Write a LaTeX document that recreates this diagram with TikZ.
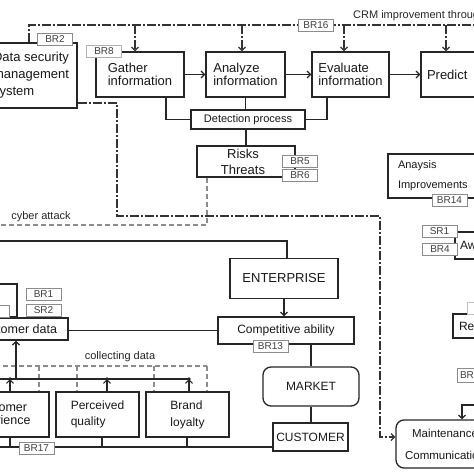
\documentclass[tikz,border=0pt]{standalone}
\usepackage{fontspec}
\setmainfont{Liberation Sans}
\usepackage{tikz}
\usetikzlibrary{arrows.meta,positioning,calc}
\tikzset{
    box/.style={draw=black!85, line width=1.3pt, fill=white, inner sep=0pt, text=black!90, align=center, font=\fontsize{13}{13}\selectfont},
    tag/.style={draw=black!45, line width=0.8pt, fill=white, inner sep=0pt, minimum width=35pt, minimum height=12pt, text=black!75, font=\fontsize{10}{10}\selectfont},
    conn/.style={draw=black!85, line width=1.2pt},
    dashdot/.style={draw=black!80, line width=1.2pt, dash pattern=on 9pt off 2pt on 2pt off 2pt},
    gdash/.style={draw=black!45, line width=1.2pt, dash pattern=on 5pt off 3pt},
    lbl/.style={inner sep=0pt, text=black!85, font=\fontsize{11}{11}\selectfont}
}

\begin{document}
\begin{tikzpicture}[x=1pt, y=-1pt, >={Straight Barb[length=3.5pt,width=7pt]}]
    \useasboundingbox (0,0) rectangle (474,474);
    \clip (0,0) rectangle (474,474);

    % upper part
    \node[box, minimum width=92pt, minimum height=65pt, align=left, font=\fontsize{13}{17}\selectfont] (dsms) at (31,75.5) {Data security\\management\\system};
    \node[box, minimum width=88pt, minimum height=45pt, align=left] (gather) at (140,74.5) {Gather\\information};
    \node[box, minimum width=79pt, minimum height=45pt, align=left] (analyze) at (245.5,74.5) {Analyze\\information};
    \node[box, minimum width=77pt, minimum height=45pt, align=left] (evaluate) at (350.5,74.5) {Evaluate\\information};
    \node[box, minimum width=92pt, minimum height=45pt, text width=80pt, align=left] (predict) at (467,74.5) {Predict};
    \node[box, minimum width=114pt, minimum height=19pt, font=\fontsize{11}{11}\selectfont] (detect) at (248,119.5) {Detection process};
    \node[box, minimum width=98pt, minimum height=31pt, text width=92pt, font=\fontsize{13}{16}\selectfont] (risks) at (246,161.5) {Risks\rule{6pt}{0pt}\\Threats\rule{6pt}{0pt}};

    % right column
    \node[box, minimum width=112pt, minimum height=44pt, text width=92pt, align=left, font=\fontsize{11}{20}\selectfont] (analysis) at (444,176) {Anaysis\\Improvements};
    \node[box, minimum width=84pt, minimum height=27pt, text width=74pt, align=left, font=\fontsize{12}{12}\selectfont] (aware) at (497,245.5) {Aw};
    \node[box, minimum width=76pt, minimum height=24pt, text width=64pt, align=left, font=\fontsize{12}{12}\selectfont] (rel) at (491,326) {Re};
    \node[box, rounded corners=8pt, minimum width=98pt, minimum height=48pt, font=\fontsize{11.5}{22}\selectfont] (maint) at (445,444) {Maintenance\\Communication};

    % lower part
    \node[box, minimum width=57pt, minimum height=33pt] (prev) at (-11.5,300.5) {};
    \node[box, minimum width=104pt, minimum height=22pt, font=\fontsize{12.5}{13}\selectfont] (custdata) at (16,329) {Customer data};
    \node[box, minimum width=108pt, minimum height=40pt] (enterprise) at (284,278.5) {ENTERPRISE};
    \node[box, minimum width=136pt, minimum height=27pt, font=\fontsize{12}{12}\selectfont] (compet) at (286,330.5) {Competitive ability};
    \node[box, rounded corners=8pt, minimum width=96pt, minimum height=39pt, font=\fontsize{12}{12}\selectfont] (market) at (311,386.5) {MARKET};
    \node[box, minimum width=75pt, minimum height=28pt, font=\fontsize{12}{12}\selectfont] (customer) at (310.5,437) {CUSTOMER};
    \node[box, minimum width=98pt, minimum height=45pt, font=\fontsize{12.5}{13}\selectfont] (custexp) at (0,414.5) {Customer\\experience};
    \node[box, minimum width=83pt, minimum height=45pt, align=left, font=\fontsize{12}{16}\selectfont] (perceived) at (97.5,414.5) {Perceived\\quality};
    \node[box, minimum width=83pt, minimum height=45pt, align=left, font=\fontsize{12}{17}\selectfont] (brand) at (187.5,414.5) {Brand\\loyalty};

    % free labels
    \node[lbl, anchor=west] (crm) at (353,16) {CRM improvement through};
    \node[lbl] (cyber) at (41,217) {cyber attack};
    \node[lbl] (collect) at (120,357) {collecting data};

    \coordinate (topl) at (29,25);
    \coordinate (topr) at (480,25);
    \coordinate (c1) at (117,216);
    \coordinate (c2) at (380,437);
    \coordinate (cyl) at (-5,225);
    \coordinate (tl) at (-5,241);
    \coordinate (gl) at (-5,366);
    \coordinate (cl) at (-5,379);
    \coordinate (bl) at (-5,447);
    \coordinate (rin) at (480,405);

    % connectors, upper part
    \draw[dashdot] (dsms.north -| topl) -- (topl) -- (topr);
    \foreach \n/\x in {gather/135, analyze/242, evaluate/344, predict/446}
        \draw[dashdot,->] (topl -| \x,0) -- (\n.north -| \x,0);
    \draw[conn,->] (gather) -- (analyze);
    \draw[conn,->] (analyze) -- (evaluate);
    \draw[conn,->] (evaluate) -- (predict);
    \draw[conn] ([xshift=26pt]gather.south) |- (detect.west);
    \draw[conn] (analyze.south) -- (analyze.south |- detect.north);
    \draw[conn] ([xshift=-23.5pt]evaluate.south) |- (detect.east);
    \draw[conn] (risks.north) -- (risks.north |- detect.south);
    \draw[gdash] ([xshift=-39pt]risks.south) |- (cyl);
    \draw[dashdot,->] (dsms.east |- 0,103) -| (c1) -| (c2) -- (maint.west |- c2);
    \draw[conn,->] (rin) -| (maint.north -| 462,0);

    % connectors, lower part
    \draw[conn, line width=1.6pt] (tl) -| ([xshift=3pt]enterprise.north);
    \draw[conn,->] (enterprise.south) -- (enterprise.south |- compet.north);
    \draw[conn] (compet.west) -- (compet.west -| custdata.east);
    \draw[conn] (market.north) -- (market.north |- compet.south);
    \draw[conn] (market.south) -- (market.south |- customer.north);
    \draw[conn] (bl) -- (bl -| customer.west);
    \foreach \n/\x in {custexp/10, perceived/102, brand/187}
        \draw[conn] (\n.south -| \x,0) -- (bl -| \x,0);
    \draw[gdash] (gl) -- (gl -| 207,0);
    \foreach \x in {39,77,154,207}
        \draw[gdash] (gl -| \x,0) -- (brand.north -| \x,0);
    \draw[conn] (cl) -- (cl -| 189,0);
    \foreach \n/\x in {custexp/10, perceived/107, brand/189} {
        \draw[conn,->] (\n.north -| \x,0) -- (cl -| \x,0);
        \fill[black!85] (cl -| \x,0) circle (1.8pt);
    }
    \draw[conn,->] (cl -| 16,0) -- (custdata.south -| 16,0);

    % tags
    \node[tag] (br2) at (55,39) {BR2};
    \node[tag, draw=black!30] (br8) at (104,51.5) {BR8};
    \node[tag] (br16) at (316,25) {BR16};
    \node[tag] (br5) at (300,161) {BR5};
    \node[tag] (br6) at (300,175) {BR6};
    \node[tag] (br14) at (449.5,200) {BR14};
    \node[tag] (sr1) at (439.5,231.5) {SR1};
    \node[tag] (br4) at (440,249) {BR4};
    \node[tag, draw=black!25, minimum width=30pt] (gtag) at (482,308) {};
    \node[tag, minimum width=38pt, minimum height=14pt, text width=32pt, align=left] (brx) at (476,375) {BR};
    \node[tag] (br1) at (43.5,294.5) {BR1};
    \node[tag] (sr2) at (43.5,310.5) {SR2};
    \node[tag] (brcut) at (-8,311.5) {};
    \node[tag] (br13) at (270.5,346) {BR13};
    \node[tag] (br17) at (36.5,448) {BR17};
\end{tikzpicture}
\end{document}
